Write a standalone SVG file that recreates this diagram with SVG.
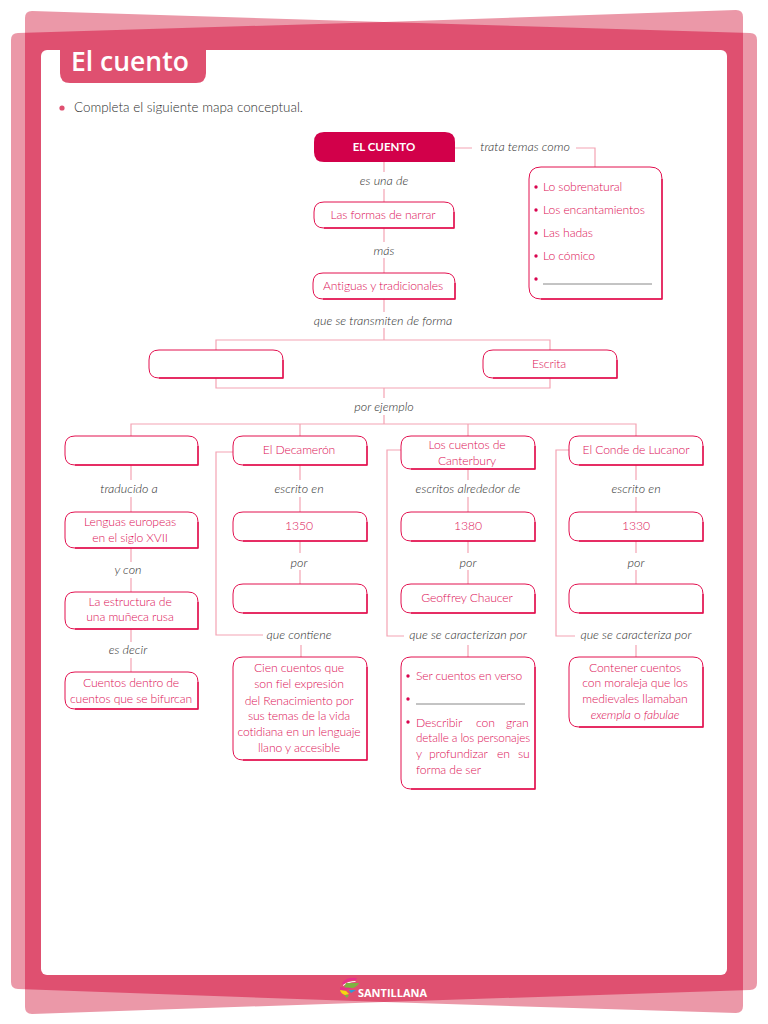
<svg xmlns="http://www.w3.org/2000/svg" width="768" height="1024" viewBox="0 0 768 1024">
<style>
text{font-family:"Lato","Open Sans","Liberation Sans",sans-serif}
.b{fill:#fff;stroke:#E2104F;stroke-width:1}
.e{fill:none;stroke:#E2104F;stroke-width:1.4}
.t{font-size:12.2px;font-weight:300;letter-spacing:-.12px;fill:#DC0F56;text-anchor:middle}
.s{font-size:12.2px;font-weight:300;letter-spacing:-.12px;fill:#DC0F56}
.l{font-size:12.5px;font-weight:300;fill:#2E2E2E;font-style:italic;text-anchor:middle}
.d{fill:#D9044F}
.u{stroke:#888;stroke-width:1;fill:none}
#connectors path{fill:none;stroke:#F4A3B3;stroke-width:1.2}
</style>
<defs>
<clipPath id="sheetClip"><path d="M11 40Q11 33 18 33L384 22L750 33Q757 33 757 40V983Q757 990 750 990L384 1002L18 989Q11 989 11 982Z"/></clipPath>
</defs>
<g id="background">
<path fill="#EB98A8" d="M25 18Q25 11 32 11L384 22L736 10Q743 10 743 17V1006Q743 1013 736 1013L384 1002L32 1014Q25 1014 25 1007Z"/>
<path fill="#EB98A8" d="M11 40Q11 33 18 33L384 22L750 33Q757 33 757 40V983Q757 990 750 990L384 1002L18 989Q11 989 11 982Z"/>
<path fill="#DF5070" clip-path="url(#sheetClip)" d="M25 18Q25 11 32 11L384 22L736 10Q743 10 743 17V1006Q743 1013 736 1013L384 1002L32 1014Q25 1014 25 1007Z"/>
<rect x="41" y="50" width="686" height="925" rx="6" fill="#fff"/>
</g>
<g id="title">
<path fill="#DF5070" d="M60 50H206V73Q206 83 196 83H70Q60 83 60 73Z"/>
<text x="71" y="71" font-size="26.5" font-weight="600" fill="#fff" style="font-family:'Open Sans','Liberation Sans',sans-serif">El cuento</text>
</g>
<g id="instruction">
<circle cx="62" cy="108" r="2.6" fill="#DF5070"/>
<text x="74" y="112" font-size="13.6" font-weight="300" fill="#2E2E2E" textLength="229" lengthAdjust="spacingAndGlyphs">Completa el siguiente mapa conceptual.</text>
</g>
<g id="connectors">
<path d="M384 162V172M384 189V202M384 228V242M384 258V273M384 299V312M384 328V340M216 350V340H550V350M216 378V388H550V378M384 388V398M384 415V424"/>
<path d="M455 148H472M576 148H595V167"/>
<path d="M131 436V424H636V436M300 424V436M468 424V436"/>
<path d="M131 465V480M131 497V512M131 548V562M131 578V592M131 629V642M131 658V672"/>
<path d="M300 465V480M300 497V512M300 541V553M300 570V584M468 469V480M468 497V512M468 541V553M468 570V584M636 465V480M636 497V512M636 541V553M636 570V584"/>
<path d="M233 452H216V635H263M301 645V657M401 450H387V636H404M468 645V657M569 450H556V636H575M636 645V657"/>
</g>
<g id="n-cuento">
<path fill="#D2004A" d="M324 132H445Q455 132 455 142V162H324Q314 162 314 152V142Q314 132 324 132Z"/>
<text x="384" y="151" font-size="11.5" font-weight="700" fill="#fff" text-anchor="middle">EL CUENTO</text>
</g>
<g id="n-temas">
<path class="b" d="M541 167H650Q662 167 662 179V299H541Q529 299 529 287V179Q529 167 541 167Z"/><path class="e" d="M662 179V299H541"/>
<circle class="d" cx="536" cy="187" r="1.7"/><text class="s" x="543" y="191">Lo sobrenatural</text>
<circle class="d" cx="536" cy="210" r="1.7"/><text class="s" x="543" y="214">Los encantamientos</text>
<circle class="d" cx="536" cy="233" r="1.7"/><text class="s" x="543" y="237">Las hadas</text>
<circle class="d" cx="536" cy="256" r="1.7"/><text class="s" x="543" y="260">Lo cómico</text>
<circle class="d" cx="536" cy="279" r="1.7"/><path class="u" d="M543 284H652"/>
</g>
<g id="n-formas">
<path class="b" d="M324 202H444Q454 202 454 212V228H324Q314 228 314 218V212Q314 202 324 202Z"/><path class="e" d="M454 212V228H324"/>
<text class="t" x="383" y="219">Las formas de narrar</text>
</g>
<g id="n-antiguas">
<path class="b" d="M323 273H445Q455 273 455 283V299H323Q313 299 313 289V283Q313 273 323 273Z"/><path class="e" d="M455 283V299H323"/>
<text class="t" x="383" y="290" textLength="120" lengthAdjust="spacingAndGlyphs">Antiguas y tradicionales</text>
</g>
<g id="n-oral">
<path class="b" d="M159 350H273Q283 350 283 360V378H159Q149 378 149 368V360Q149 350 159 350Z"/><path class="e" d="M283 360V378H159"/>
</g>
<g id="n-escrita">
<path class="b" d="M493 350H607Q617 350 617 360V378H493Q483 378 483 368V360Q483 350 493 350Z"/><path class="e" d="M617 360V378H493"/>
<text class="t" x="549" y="368">Escrita</text>
</g>
<g id="n-blank1">
<path class="b" d="M75 436H188Q198 436 198 446V465H75Q65 465 65 455V446Q65 436 75 436Z"/><path class="e" d="M198 446V465H75"/>
</g>
<g id="n-decameron">
<path class="b" d="M243 436H357Q367 436 367 446V465H243Q233 465 233 455V446Q233 436 243 436Z"/><path class="e" d="M367 446V465H243"/>
<text class="t" x="299" y="454">El Decamerón</text>
</g>
<g id="n-canterbury">
<path class="b" d="M411 436H525Q535 436 535 446V469H411Q401 469 401 459V446Q401 436 411 436Z"/><path class="e" d="M535 446V469H411"/>
<text class="t" x="467" y="449">Los cuentos de</text><text class="t" x="467" y="465">Canterbury</text>
</g>
<g id="n-lucanor">
<path class="b" d="M579 436H693Q703 436 703 446V465H579Q569 465 569 455V446Q569 436 579 436Z"/><path class="e" d="M703 446V465H579"/>
<text class="t" x="636" y="454">El Conde de Lucanor</text>
</g>
<g id="n-lenguas">
<path class="b" d="M75 512H188Q198 512 198 522V548H75Q65 548 65 538V522Q65 512 75 512Z"/><path class="e" d="M198 522V548H75"/>
<text class="t" x="130" y="526">Lenguas europeas</text><text class="t" x="130" y="542">en el siglo XVII</text>
</g>
<g id="n-1350">
<path class="b" d="M243 512H357Q367 512 367 522V541H243Q233 541 233 531V522Q233 512 243 512Z"/><path class="e" d="M367 522V541H243"/>
<text class="t" x="299" y="530">1350</text>
</g>
<g id="n-1380">
<path class="b" d="M411 512H525Q535 512 535 522V541H411Q401 541 401 531V522Q401 512 411 512Z"/><path class="e" d="M535 522V541H411"/>
<text class="t" x="468" y="530">1380</text>
</g>
<g id="n-1330">
<path class="b" d="M579 512H693Q703 512 703 522V541H579Q569 541 569 531V522Q569 512 579 512Z"/><path class="e" d="M703 522V541H579"/>
<text class="t" x="636" y="530">1330</text>
</g>
<g id="n-estructura">
<path class="b" d="M75 592H188Q198 592 198 602V629H75Q65 629 65 619V602Q65 592 75 592Z"/><path class="e" d="M198 602V629H75"/>
<text class="t" x="130" y="606">La estructura de</text><text class="t" x="130" y="621">una muñeca rusa</text>
</g>
<g id="n-blank2">
<path class="b" d="M243 584H357Q367 584 367 594V613H243Q233 613 233 603V594Q233 584 243 584Z"/><path class="e" d="M367 594V613H243"/>
</g>
<g id="n-chaucer">
<path class="b" d="M411 584H525Q535 584 535 594V613H411Q401 613 401 603V594Q401 584 411 584Z"/><path class="e" d="M535 594V613H411"/>
<text class="t" x="467" y="602">Geoffrey Chaucer</text>
</g>
<g id="n-blank3">
<path class="b" d="M579 584H693Q703 584 703 594V613H579Q569 613 569 603V594Q569 584 579 584Z"/><path class="e" d="M703 594V613H579"/>
</g>
<g id="n-bifurcan">
<path class="b" d="M75 672H188Q198 672 198 682V709H75Q65 709 65 699V682Q65 672 75 672Z"/><path class="e" d="M198 682V709H75"/>
<text class="t" x="131" y="687">Cuentos dentro de</text><text class="t" x="131" y="703" textLength="122" lengthAdjust="spacingAndGlyphs">cuentos que se bifurcan</text>
</g>
<g id="n-cien">
<path class="b" d="M243 657H357Q367 657 367 667V760H243Q233 760 233 750V667Q233 657 243 657Z"/><path class="e" d="M367 667V760H243"/>
<text class="t" x="299" y="672">Cien cuentos que</text><text class="t" x="299" y="688">son fiel expresión</text><text class="t" x="299" y="705">del Renacimiento por</text><text class="t" x="299" y="720">sus temas de la vida</text><text class="t" x="299" y="736" textLength="123" lengthAdjust="spacingAndGlyphs">cotidiana en un lenguaje</text><text class="t" x="299" y="752">llano y accesible</text>
</g>
<g id="n-verso">
<path class="b" d="M411 657H525Q535 657 535 667V789H411Q401 789 401 779V667Q401 657 411 657Z"/><path class="e" d="M535 667V789H411"/>
<circle class="d" cx="408" cy="676" r="1.7"/><text class="s" x="416" y="680" textLength="106" lengthAdjust="spacingAndGlyphs">Ser cuentos en verso</text>
<circle class="d" cx="408" cy="699" r="1.7"/><path class="u" d="M416 704H525"/>
<circle class="d" cx="408" cy="722" r="1.7"/>
<text class="s" y="727"><tspan x="416">Describir</tspan> <tspan x="476">con</tspan> <tspan x="506">gran</tspan></text>
<text class="s" x="416" y="742" textLength="114" lengthAdjust="spacingAndGlyphs">detalle a los personajes</text>
<text class="s" y="758"><tspan x="416">y</tspan> <tspan x="429">profundizar</tspan> <tspan x="497">en</tspan> <tspan x="518">su</tspan></text>
<text class="s" x="416" y="774">forma de ser</text>
</g>
<g id="n-moraleja">
<path class="b" d="M579 657H693Q703 657 703 667V727H579Q569 727 569 717V667Q569 657 579 657Z"/><path class="e" d="M703 667V727H579"/>
<text class="t" x="635" y="672">Contener cuentos</text><text class="t" x="635" y="687">con moraleja que los</text><text class="t" x="635" y="703">medievales llamaban</text><text class="t" x="635" y="719"><tspan font-style="italic">exempla</tspan> o <tspan font-style="italic">fabulae</tspan></text>
</g>
<g id="labels">
<text class="l" x="384" y="185">es una de</text>
<text class="l" x="384" y="255">más</text>
<text class="l" x="383" y="325">que se transmiten de forma</text>
<text class="l" x="384" y="411">por ejemplo</text>
<text class="l" x="525" y="151">trata temas como</text>
<text class="l" x="129" y="493">traducido a</text>
<text class="l" x="299" y="493">escrito en</text>
<text class="l" x="468" y="493">escritos alrededor de</text>
<text class="l" x="636" y="493">escrito en</text>
<text class="l" x="128" y="574">y con</text>
<text class="l" x="299" y="567">por</text>
<text class="l" x="468" y="567">por</text>
<text class="l" x="636" y="567">por</text>
<text class="l" x="128" y="654">es decir</text>
<text class="l" x="299" y="639">que contiene</text>
<text class="l" x="468" y="639">que se caracterizan por</text>
<text class="l" x="636" y="639">que se caracteriza por</text>
</g>
<g id="logo">
<path fill="#E8308A" d="M342 983Q346 977 357 978L356 980Q348 980 343 985Z"/>
<path fill="#fff" d="M343 985Q348 981 356 981L355 982Q349 982 343 986Z"/>
<path fill="#7FB241" d="M346 983H359Q358 986 353 988H344Z"/>
<path fill="#E8308A" d="M340 987L352 988L346 990L340 990Z"/>
<path fill="#F5D90F" d="M340 990L346 991L349 994L345 995Q341 994 340 990Z"/>
<path fill="#2E9BD6" d="M349 990H356L351 993Z"/>
<path fill="#7FB241" d="M344 995L349 995L347 998Z"/>
<text x="358" y="997" font-size="10.8" font-weight="700" fill="#fff" style="font-family:'Open Sans','Liberation Sans',sans-serif" textLength="69" lengthAdjust="spacingAndGlyphs">SANTILLANA</text>
</g>
</svg>
